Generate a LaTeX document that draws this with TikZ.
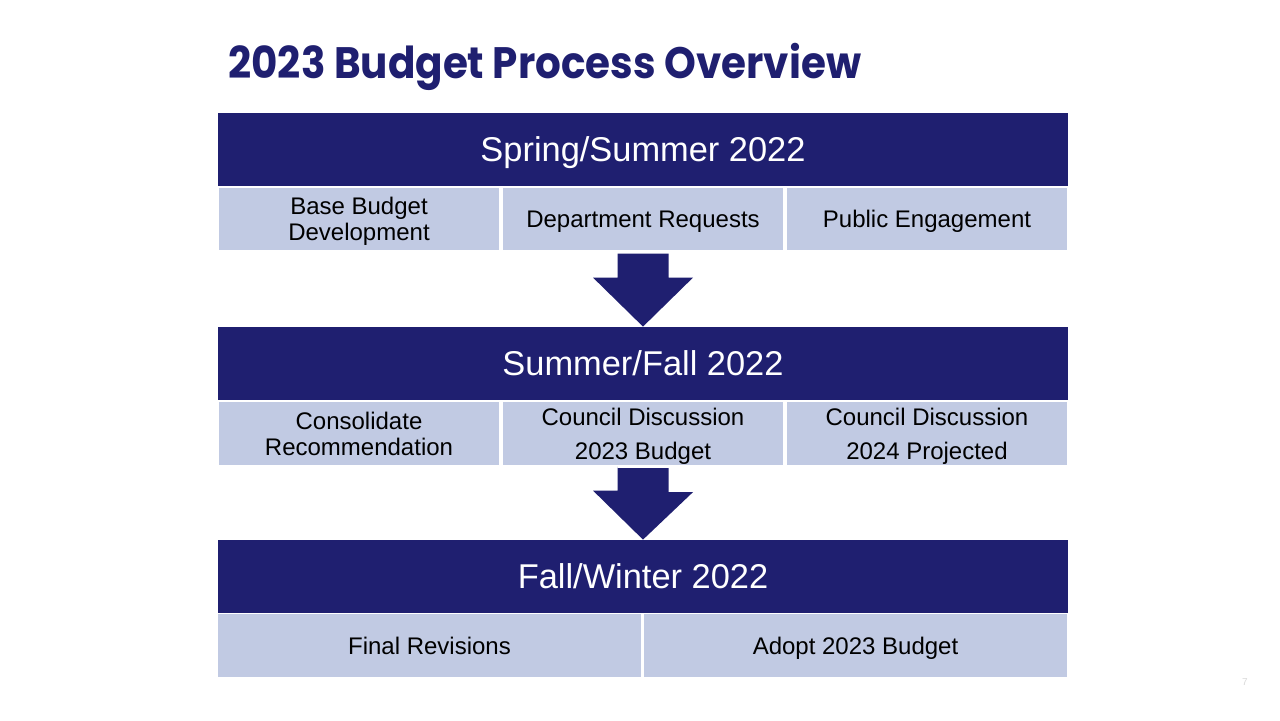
\documentclass[tikz,border=0pt]{standalone}
\usepackage{fontspec}
\setmainfont{Liberation Sans}
\newfontfamily\titlefont{Poppins}[FakeStretch=0.92]
\usepackage{tikz}
\usetikzlibrary{calc}
\definecolor{navy}{RGB}{31,31,112}
\definecolor{paleblue}{RGB}{193,202,227}
\newcommand{\cellheight}{32pt}
\newcommand{\shaftw}{25.5}
\tikzstyle{band}=[fill=navy, text=white, inner sep=0, minimum width=425pt, minimum height=36.5pt,
                  text depth=0pt, font=\fontsize{17.2}{20}\selectfont]
\tikzstyle{cell}=[fill=paleblue, draw=white, line width=0.6pt, inner sep=0, minimum height=\cellheight,
                  align=center, text depth=0pt, font=\fontsize{12}{13}\selectfont]
\tikzstyle{blockarrow}=[fill=navy]
\begin{document}
\begin{tikzpicture}[x=0.5pt, y=-0.5pt]
        \useasboundingbox[fill=white] (0,0) rectangle (1280,720);
        % title
        \node[anchor=base west, inner sep=0, text=navy, font=\titlefont\bfseries\fontsize{22}{26}\selectfont]
            (title) at (228,78) {2023 Budget Process Overview};
        % spring/summer
        \node[band] (spring) at (643,149.5) {Spring/Summer 2022};
        \node[cell, minimum width=141pt] (base)   at (359,219) {Base Budget\\Development};
        \node[cell, minimum width=141pt] (dept)   at (643,219) {Department Requests};
        \node[cell, minimum width=141pt] (public) at (927,219) {Public Engagement};
        % summer/fall
        \node[band] (summer) at (643,363.5) {Summer/Fall 2022};
        \node[cell, minimum width=141pt] (consol)  at (359,433.5) {Consolidate\\Recommendation};
        \node[cell, minimum width=141pt] (disc23)  at (643,433.5) {Council Discussion\\[4pt]2023 Budget};
        \node[cell, minimum width=141pt] (disc24)  at (927,433.5) {Council Discussion\\[4pt]2024 Projected};
        % fall/winter
        \node[band] (fall) at (643,576.5) {Fall/Winter 2022};
        \node[cell, minimum width=212.5pt] (final) at (429.5,645.5) {Final Revisions};
        \node[cell, minimum width=212.5pt] (adopt) at (855.5,645.5) {Adopt 2023 Budget};
        % arrows
        \fill[blockarrow] (dept.south) +(-\shaftw,2) -- +(\shaftw,2) -- +(\shaftw,26) -- +(50,26)
            -- (summer.north) -- +(-50,-49) -- +(-\shaftw,-49) -- +(-\shaftw,-73) -- cycle;
        \fill[blockarrow] (disc23.south) +(-\shaftw,2) -- +(\shaftw,2) -- +(\shaftw,26) -- +(50,26)
            -- (fall.north) -- +(-50,-49) -- +(-\shaftw,-49) -- +(-\shaftw,-73) -- cycle;
        \node[text=black!15, font=\fontsize{5}{6}\selectfont] (page) at (1245,682) {7};
    \end{tikzpicture}
\end{document}
